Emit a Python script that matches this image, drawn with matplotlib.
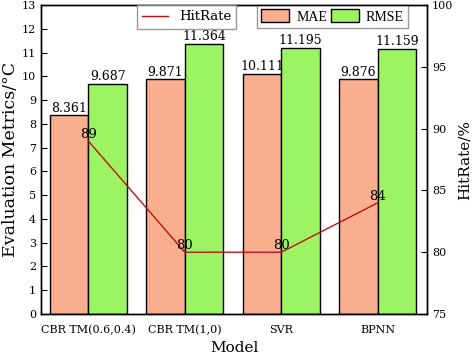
import matplotlib
matplotlib.use('Agg')
import matplotlib.pyplot as plt
import numpy as np

models = ['CBR TM(0.6,0.4)', 'CBR TM(1,0)', 'SVR', 'BPNN']
mae = [8.361, 9.871, 10.111, 9.876]
rmse = [9.687, 11.364, 11.195, 11.159]
hit_rate = [89, 80, 80, 84]

plt.rcParams['font.family'] = ['DejaVu Serif']
plt.rcParams['font.size'] = 8

fig = plt.figure(figsize=(4.74, 3.57), dpi=100)
ax = fig.add_axes([0.0865, 0.1204, 0.8143, 0.8656])
x = np.arange(len(models))
w = 0.4

b1 = ax.bar(x - w / 2, mae, w, color='#F9AE8D', edgecolor='black', linewidth=1, label='MAE')
b2 = ax.bar(x + w / 2, rmse, w, color='#9DF463', edgecolor='black', linewidth=1, label='RMSE')
for bars, vals in ((b1, mae), (b2, rmse)):
    for r, v in zip(bars, vals):
        ax.text(r.get_x() + r.get_width() / 2, v + 0.03, '%.3f' % v,
                ha='center', va='bottom', fontsize=9)

ax.set_xlim(-0.49, 3.51)
ax.set_ylim(0, 13)
ax.set_yticks(range(0, 14))
ax.set_xticks(x)
ax.set_xticklabels(models, fontsize=8)
ax.tick_params(direction='in', length=4, labelsize=8)
ax.tick_params(axis='x', length=0, pad=8)
ax.set_xlabel('Model', fontsize=11)
ax.set_ylabel('Evaluation Metrics/°C', fontsize=12.5, labelpad=2)

ax2 = ax.twinx()
ln, = ax2.plot(x, hit_rate, color='#C0101A', linewidth=1, label='HitRate')
for xi, h in zip(x, hit_rate):
    ax2.text(xi, h, str(h), ha='center', va='bottom', fontsize=9.5)
ax2.set_ylim(75, 100)
ax2.set_yticks(range(75, 101, 5))
ax2.tick_params(direction='in', length=4, labelsize=8)
ax2.set_ylabel('HitRate/%', fontsize=11, labelpad=3)

for a in (ax, ax2):
    for s in a.spines.values():
        s.set_linewidth(1)

leg1 = ax2.legend(handles=[ln], loc='upper left', bbox_to_anchor=(0.248, 1.0),
                  fancybox=False, edgecolor='gray', borderaxespad=0, fontsize=9.5)
leg2 = ax.legend(handles=[b1, b2], loc='upper left', bbox_to_anchor=(0.560, 1.0),
                 ncol=2, fancybox=False, edgecolor='gray', borderaxespad=0,
                 prop={'family': 'Liberation Serif', 'size': 10},
                 columnspacing=0.3, handletextpad=0.5, handlelength=2.0,
                 handleheight=1.1, borderpad=0.3)

fig.savefig('out.png', dpi=100)
